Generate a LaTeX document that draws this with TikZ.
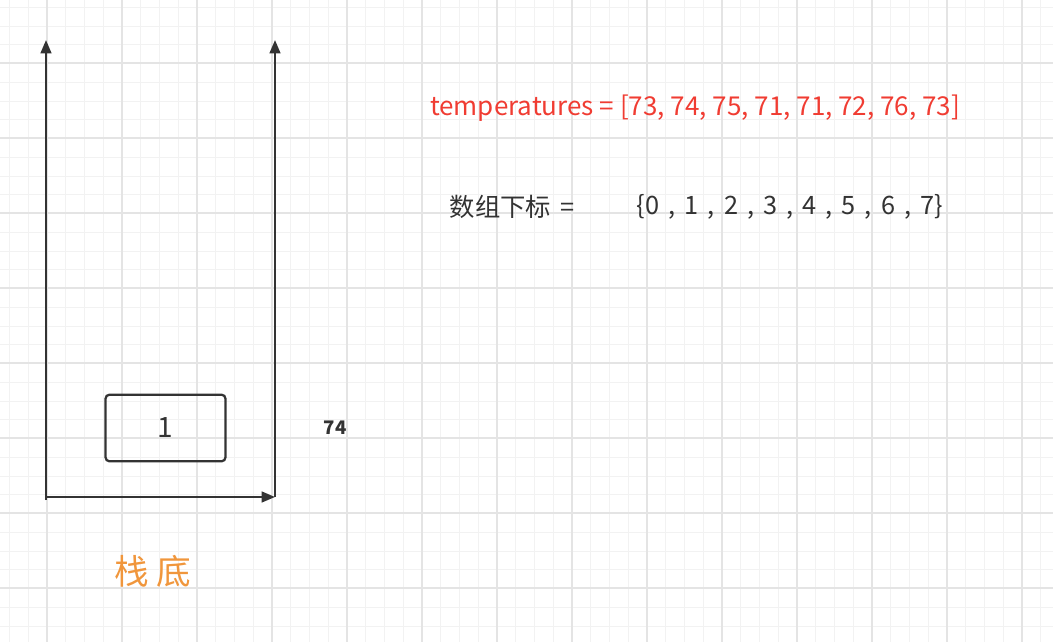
\documentclass[tikz,border=0pt]{standalone}
\usepackage{fontspec}
\setmainfont{Noto Sans CJK SC}
\newfontfamily\widefont[WordSpace=1.6]{Noto Sans CJK SC}
\usetikzlibrary{arrows.meta}
\definecolor{ink}{HTML}{333333}
\definecolor{gridmin}{HTML}{F2F2F2}
\definecolor{gridmaj}{HTML}{E4E4E4}
\tikzset{
 stackline/.style={draw=ink,line width=1.7pt,-{Triangle[length=10pt,width=8pt]}},
 cell/.style={draw=ink,line width=1.7pt,rounded corners=3pt,minimum width=90pt,minimum height=50pt,font=\fontsize{21}{21}\selectfont,text=ink},
 lbl/.style={font=\widefont\fontsize{19}{19}\selectfont,text=ink,anchor=center}
}
\begin{document}
\begin{tikzpicture}[x=0.75pt,y=-0.75pt]
\useasboundingbox (0,0) rectangle (1053,642);
\foreach \i in {0,...,57} {\draw[gridmin,line width=0.6pt] ({-9.25+18.75*\i},0) -- ({-9.25+18.75*\i},642);}
\foreach \i in {0,...,35} {\draw[gridmin,line width=0.6pt] (0,{7.25+18.75*\i}) -- (1053,{7.25+18.75*\i});}
\foreach \i in {0,...,14} {\draw[gridmaj,line width=0.8pt] ({-28+75*\i},0) -- ({-28+75*\i},642);}
\foreach \i in {0,...,9} {\draw[gridmaj,line width=0.8pt] (0,{-12+75*\i}) -- (1053,{-12+75*\i});}
\coordinate (lb) at (46,500); \coordinate (lt) at (46,40);
\coordinate (rb) at (275,497); \coordinate (rt) at (275,40);
\coordinate (bl) at (46,497);
\draw[stackline] (lb) -- (lt);
\draw[stackline] (rb) -- (rt);
\draw[stackline] (bl) -- (rb);
\node[cell] (c1) at (165.5,428) {1};
\node[font=\bfseries\fontsize{14}{14}\selectfont,text=ink] (v) at (335,428) {74};
\node[font=\fontsize{26}{26}\selectfont,text={rgb,255:red,240;green,150;blue,60}] (bottom) at (153,571) {栈 底};
\node[font=\fontsize{19.5}{19.5}\selectfont,text={rgb,255:red,240;green,60;blue,50}] (temps) at (695,108) {temperatures = [73, 74, 75, 71, 71, 72, 76, 73]};
\node[lbl] (idx) at (512,207) {数组下标 =};
\node[lbl] (vals) at (790,207) {\{0 , 1 , 2 , 3 , 4 , 5 , 6 , 7\}};
\end{tikzpicture}
\end{document}
